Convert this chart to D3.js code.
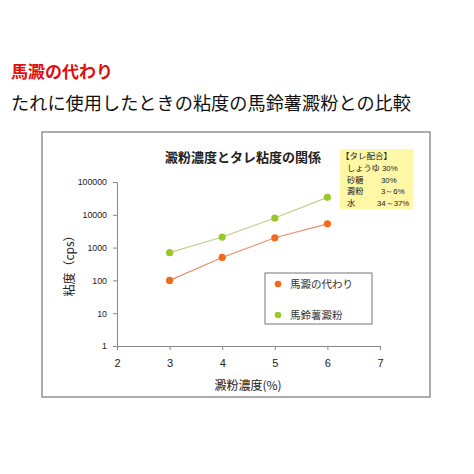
<!DOCTYPE html>
<html><head><meta charset="utf-8">
<script src="https://cdn.jsdelivr.net/npm/d3@7"></script>
<style>body{margin:0;background:#fff}svg{display:block}</style>
</head><body>
<svg id="c" width="474" height="474"></svg>
<script>
const concentrations = [3, 4, 5, 6];
const substituteValues = [100, 500, 2000, 5300];
const potatoValues = [700, 2100, 8000, 34000];
const seriesNames = ["馬澱の代わり", "馬鈴薯澱粉"];
const xTicks = [2, 3, 4, 5, 6, 7];
const yTicks = [1, 10, 100, 1000, 10000, 100000];
const recipeTitle = "【タレ配合】";
const recipeItems = ["しょうゆ", "砂糖", "澱粉", "水"];
const recipeAmounts = ["30%", "30%", "3～6%", "34～37%"];

const svg = d3.select("#c");
const font = "'Noto Sans CJK JP', sans-serif";

svg.append("text").attr("x", 11).attr("y", 78).attr("fill", "#e01010")
  .attr("font-family", font).attr("font-weight", "bold").attr("font-size", 17).text("馬澱の代わり");
svg.append("text").attr("x", 11).attr("y", 110).attr("fill", "#111")
  .attr("font-family", font).attr("font-size", 18.2).text("たれに使用したときの粘度の馬鈴薯澱粉との比較");

// frame
svg.append("rect").attr("x", 42).attr("y", 132).attr("width", 388).attr("height", 265)
  .attr("fill", "#fff").attr("stroke", "#777").attr("stroke-width", 1.2);

const x = d3.scaleLinear().domain([2, 7]).range([117, 380]);
const y = d3.scaleLog().domain([1, 100000]).range([346, 182]);

const gx = svg.append("g").attr("transform", "translate(0,346)")
  .call(d3.axisBottom(x).tickValues(xTicks).tickSize(4).tickPadding(9).tickFormat(d3.format("d")));
const gy = svg.append("g").attr("transform", "translate(117,0)")
  .call(d3.axisLeft(y).tickValues(yTicks).tickSize(4).tickPadding(6).tickFormat(d3.format("d")));
[gx, gy].forEach(g => {
  g.select(".domain").attr("stroke", "#888");
  g.selectAll(".tick line").attr("stroke", "#888");
});
gx.selectAll("text").attr("font-family", "'Liberation Sans', sans-serif").attr("font-size", 11).attr("fill", "#222");
gy.selectAll("text").attr("font-family", "'Liberation Sans', sans-serif").attr("font-size", 8.8).attr("fill", "#222");

svg.append("text").attr("x", 248).attr("y", 390).attr("text-anchor", "middle")
  .attr("font-family", font).attr("font-size", 12).attr("fill", "#222").text("澱粉濃度(%)");
svg.append("text").attr("transform", "translate(74,263) rotate(-90)").attr("text-anchor", "middle")
  .attr("font-family", font).attr("font-size", 12).attr("fill", "#222").text("粘度（cps）");

svg.append("text").attr("x", 243).attr("y", 162).attr("text-anchor", "middle")
  .attr("font-family", font).attr("font-weight", "bold").attr("font-size", 13).attr("fill", "#222")
  .text("澱粉濃度とタレ粘度の関係");

const series = [
  {name: seriesNames[0], values: substituteValues, color: "#f26b1d", line: "#e8906a"},
  {name: seriesNames[1], values: potatoValues, color: "#99c928", line: "#bcd28a"}
];
const lineGen = d3.line().x(d => x(d[0])).y(d => y(d[1]));
series.forEach(s => {
  const pts = concentrations.map((c, i) => [c, s.values[i]]);
  svg.append("path").attr("d", lineGen(pts)).attr("fill", "none").attr("stroke", s.line).attr("stroke-width", 1.2);
  svg.selectAll(null).data(pts).enter().append("circle")
    .attr("cx", d => x(d[0])).attr("cy", d => y(d[1])).attr("r", 3.6).attr("fill", s.color);
});

// legend
svg.append("rect").attr("x", 265).attr("y", 273).attr("width", 107).attr("height", 51)
  .attr("fill", "#fff").attr("stroke", "#777").attr("stroke-width", 1);
series.forEach((s, i) => {
  const ly = 284 + i * 31;
  svg.append("circle").attr("cx", 278).attr("cy", ly).attr("r", 3.3).attr("fill", s.color);
  svg.append("text").attr("x", 290).attr("y", ly + 4).attr("font-family", font).attr("font-size", 10.5)
    .attr("fill", "#333").text(s.name);
});

// recipe box
svg.append("rect").attr("x", 340).attr("y", 149).attr("width", 73).attr("height", 60).attr("fill", "#fdf7a6");
svg.append("text").attr("x", 341).attr("y", 159).attr("font-family", font).attr("font-size", 8.5)
  .attr("fill", "#222").text(recipeTitle);
const amountX = [382, 381, 381, 377];
recipeItems.forEach((t, i) => {
  const ty = 171 + i * 11.7;
  svg.append("text").attr("x", 347).attr("y", ty).attr("font-family", font).attr("font-size", 8.2)
    .attr("fill", "#222").text(t);
  svg.append("text").attr("x", amountX[i]).attr("y", ty).attr("font-family", "'Liberation Sans', sans-serif")
    .attr("font-size", 7.8).attr("fill", "#222").text(recipeAmounts[i]);
});
</script>
</body></html>
